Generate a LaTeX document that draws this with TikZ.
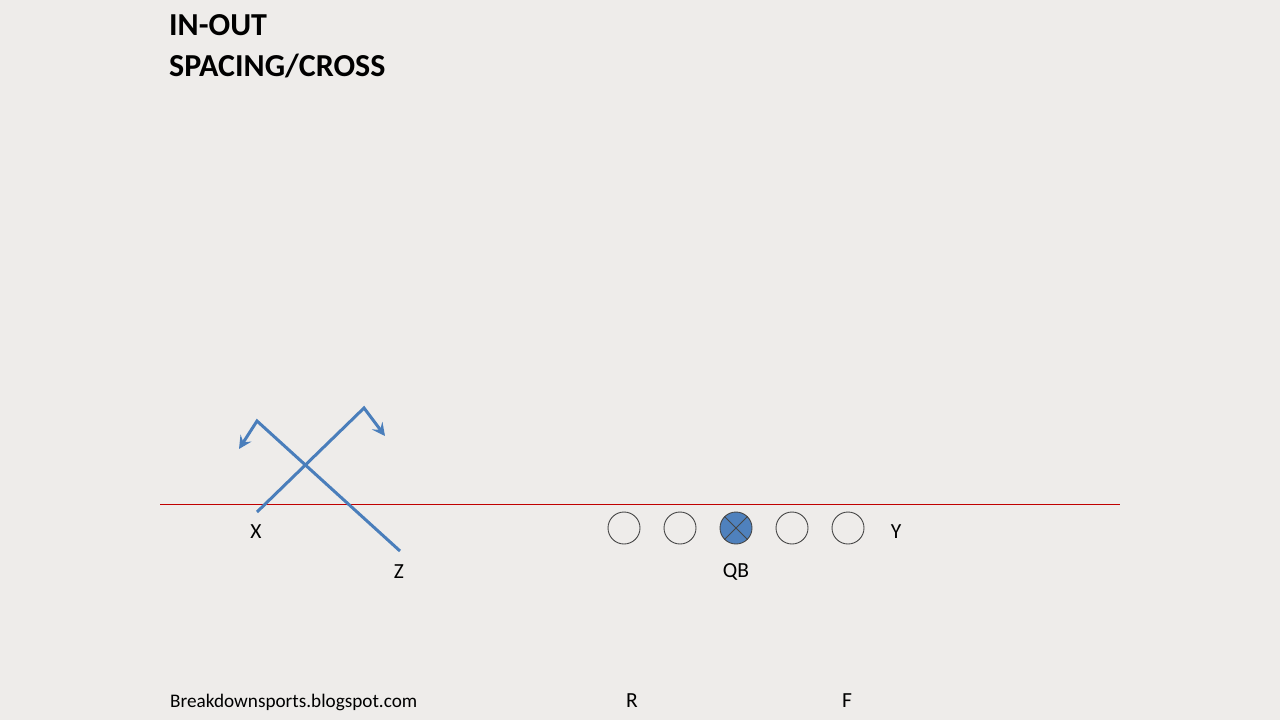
\documentclass[tikz,border=0pt]{standalone}
\usepackage{fontspec}
\setmainfont{Carlito}
\usetikzlibrary{arrows.meta}
\definecolor{bg}{RGB}{238,236,234}
\definecolor{route}{RGB}{74,126,187}
\definecolor{qbfill}{RGB}{79,129,189}
\definecolor{los}{RGB}{192,0,0}
\definecolor{ring}{RGB}{70,70,70}
\tikzset{
  lbl/.style={font=\fontsize{21.5}{24}\selectfont, inner sep=0pt, text=black},
  title/.style={font=\bfseries\fontsize{32}{36}\selectfont, inner sep=0pt, anchor=west},
  lineman/.style={circle, draw=ring, line width=0.9pt, minimum size=32pt, inner sep=0pt},
  routeline/.style={draw=route, line width=3pt, line join=miter, -{Stealth[length=13pt,width=13pt,inset=5pt]}},
}
\begin{document}
\begin{tikzpicture}[x=1pt,y=-1pt]
\fill[bg] (0,0) rectangle (1280,720);
\useasboundingbox (0,0) rectangle (1280,720);
\node[title] (t1) at (169,25) {IN-OUT};
\node[title] (t2) at (169,66) {SPACING/CROSS};
\coordinate (losL) at (160,504);
\coordinate (losR) at (1120,504);
\draw[los, line width=1pt] (losL) -- (losR);
\node[lineman] (o1) at (624,528) {};
\node[lineman] (o2) at (680,528) {};
\node[lineman, fill=qbfill] (c) at (736,528) {};
\draw[ring, line width=0.8pt] (c.north west) -- (c.south east) (c.north east) -- (c.south west);
\node[lineman] (o3) at (792,528) {};
\node[lineman] (o4) at (848,528) {};
\node[lbl] (X) at (256,532) {X};
\node[lbl] (Z) at (399,572) {Z};
\node[lbl] (QB) at (736,572) {QB};
\node[lbl] (Y) at (896,532) {Y};
\node[lbl] (R) at (632,701) {R};
\node[lbl] (F) at (847,701) {F};
\node[lbl, anchor=west, font=\fontsize{19.2}{22}\selectfont] (web) at (170,702) {Breakdownsports.blogspot.com};
\coordinate (xs) at (257,512);
\coordinate (xb) at (364,408);
\coordinate (xe) at (385,436);
\coordinate (zs) at (400,551);
\coordinate (zb) at (257,421);
\coordinate (ze) at (239,449);
\draw[routeline] (xs) -- (xb) -- (xe);
\draw[routeline] (zs) -- (zb) -- (ze);
\end{tikzpicture}
\end{document}
